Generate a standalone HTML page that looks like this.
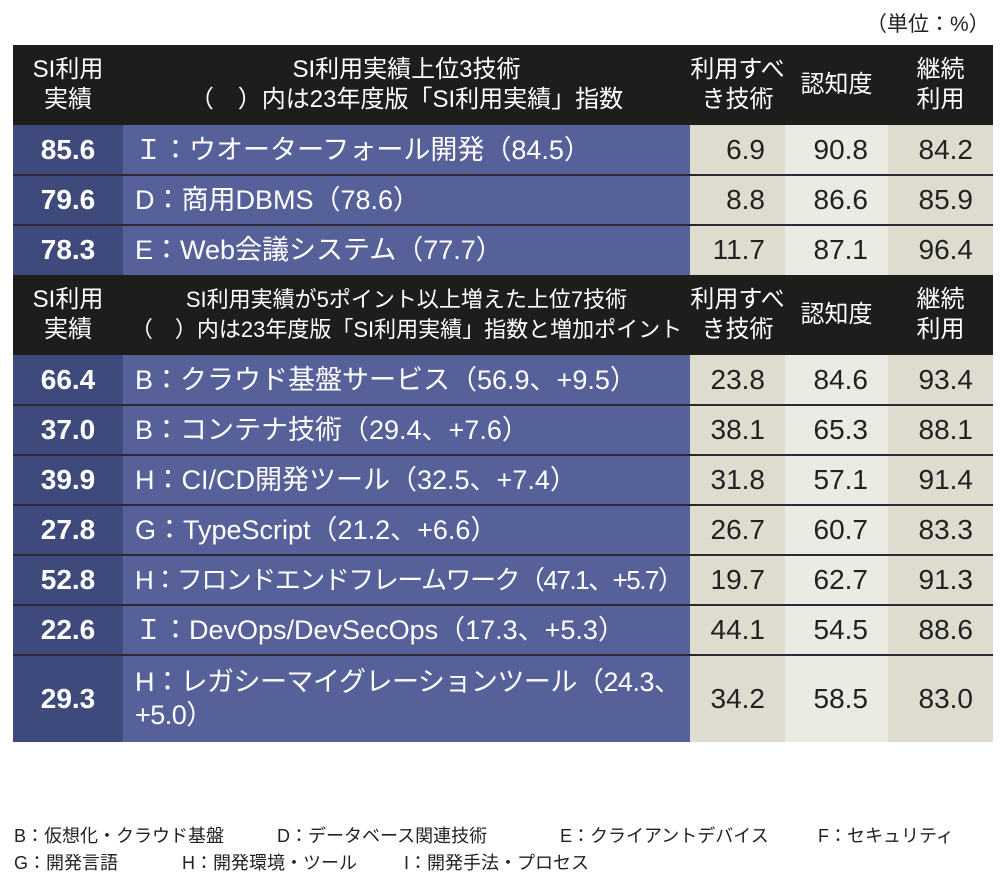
<!DOCTYPE html>
<html><head><meta charset="utf-8"><style>
body{margin:0;width:1000px;height:876px;background:#fff;position:relative;overflow:hidden;font-family:"Liberation Sans","Noto Sans CJK JP",sans-serif;}
.a{position:absolute;box-sizing:border-box;display:flex;align-items:center;}
.h{background:#1f1c1c;color:#fff;font-size:24px;line-height:30px;justify-content:center;text-align:center;}
.c1{background:#3f4a7c;color:#fff;font-size:28px;font-weight:bold;justify-content:center;}
.c2{background:#56619a;color:#fff;font-size:27px;padding-left:12px;line-height:33px;}
.n{color:#222;font-size:28px;justify-content:flex-end;padding-right:20px;}
.b{background:#dedbcf}.l{background:#ebeae3}
.line{position:absolute;left:13px;width:980px;height:2px;background:#2a2a35;}
.lg{position:absolute;font-size:18px;color:#222;white-space:nowrap;}
</style></head><body>
<div class="lg" style="left:866px;top:8px;font-size:21px">（単位：%）</div>
<div class="a h" style="left:13px;top:45px;width:110px;height:80px">SI利用<br>実績</div>
<div class="a h" style="left:123px;top:45px;width:567px;height:80px">SI利用実績上位3技術<br>（　）内は23年度版「SI利用実績」指数</div>
<div class="a h" style="left:690px;top:45px;width:95px;height:80px">利用すべ<br>き技術</div>
<div class="a h" style="left:785px;top:45px;width:103px;height:80px">認知度</div>
<div class="a h" style="left:888px;top:45px;width:105px;height:80px">継続<br>利用</div>
<div class="a h" style="left:13px;top:275px;width:110px;height:80px">SI利用<br>実績</div>
<div class="a h" style="left:123px;top:275px;width:567px;height:80px;font-size:22px">SI利用実績が5ポイント以上増えた上位7技術<br>（　）内は23年度版「SI利用実績」指数と増加ポイント</div>
<div class="a h" style="left:690px;top:275px;width:95px;height:80px">利用すべ<br>き技術</div>
<div class="a h" style="left:785px;top:275px;width:103px;height:80px">認知度</div>
<div class="a h" style="left:888px;top:275px;width:105px;height:80px">継続<br>利用</div>

<div class="a c1" style="left:13px;top:125px;width:110px;height:50px">85.6</div><div class="a c2" style="left:123px;top:125px;width:567px;height:50px">Ｉ：ウオーターフォール開発（84.5）</div><div class="a n b" style="left:690px;top:125px;width:95px;height:50px">6.9</div><div class="a n l" style="left:785px;top:125px;width:103px;height:50px">90.8</div><div class="a n b" style="left:888px;top:125px;width:105px;height:50px">84.2</div>
<div class="a c1" style="left:13px;top:175px;width:110px;height:50px">79.6</div><div class="a c2" style="left:123px;top:175px;width:567px;height:50px">D：商用DBMS（78.6）</div><div class="a n b" style="left:690px;top:175px;width:95px;height:50px">8.8</div><div class="a n l" style="left:785px;top:175px;width:103px;height:50px">86.6</div><div class="a n b" style="left:888px;top:175px;width:105px;height:50px">85.9</div>
<div class="a c1" style="left:13px;top:225px;width:110px;height:50px">78.3</div><div class="a c2" style="left:123px;top:225px;width:567px;height:50px">E：Web会議システム（77.7）</div><div class="a n b" style="left:690px;top:225px;width:95px;height:50px">11.7</div><div class="a n l" style="left:785px;top:225px;width:103px;height:50px">87.1</div><div class="a n b" style="left:888px;top:225px;width:105px;height:50px">96.4</div>

<div class="a c1" style="left:13px;top:355px;width:110px;height:50px">66.4</div><div class="a c2" style="left:123px;top:355px;width:567px;height:50px">B：クラウド基盤サービス（56.9、+9.5）</div><div class="a n b" style="left:690px;top:355px;width:95px;height:50px">23.8</div><div class="a n l" style="left:785px;top:355px;width:103px;height:50px">84.6</div><div class="a n b" style="left:888px;top:355px;width:105px;height:50px">93.4</div>
<div class="a c1" style="left:13px;top:405px;width:110px;height:50px">37.0</div><div class="a c2" style="left:123px;top:405px;width:567px;height:50px">B：コンテナ技術（29.4、+7.6）</div><div class="a n b" style="left:690px;top:405px;width:95px;height:50px">38.1</div><div class="a n l" style="left:785px;top:405px;width:103px;height:50px">65.3</div><div class="a n b" style="left:888px;top:405px;width:105px;height:50px">88.1</div>
<div class="a c1" style="left:13px;top:455px;width:110px;height:50px">39.9</div><div class="a c2" style="left:123px;top:455px;width:567px;height:50px">H：CI/CD開発ツール（32.5、+7.4）</div><div class="a n b" style="left:690px;top:455px;width:95px;height:50px">31.8</div><div class="a n l" style="left:785px;top:455px;width:103px;height:50px">57.1</div><div class="a n b" style="left:888px;top:455px;width:105px;height:50px">91.4</div>
<div class="a c1" style="left:13px;top:505px;width:110px;height:50px">27.8</div><div class="a c2" style="left:123px;top:505px;width:567px;height:50px">G：TypeScript（21.2、+6.6）</div><div class="a n b" style="left:690px;top:505px;width:95px;height:50px">26.7</div><div class="a n l" style="left:785px;top:505px;width:103px;height:50px">60.7</div><div class="a n b" style="left:888px;top:505px;width:105px;height:50px">83.3</div>
<div class="a c1" style="left:13px;top:555px;width:110px;height:50px">52.8</div><div class="a c2" style="left:123px;top:555px;width:567px;height:50px;letter-spacing:-1.5px;font-size:26px">H：フロンドエンドフレームワーク（47.1、+5.7）</div><div class="a n b" style="left:690px;top:555px;width:95px;height:50px">19.7</div><div class="a n l" style="left:785px;top:555px;width:103px;height:50px">62.7</div><div class="a n b" style="left:888px;top:555px;width:105px;height:50px">91.3</div>
<div class="a c1" style="left:13px;top:605px;width:110px;height:50px">22.6</div><div class="a c2" style="left:123px;top:605px;width:567px;height:50px">Ｉ：DevOps/DevSecOps（17.3、+5.3）</div><div class="a n b" style="left:690px;top:605px;width:95px;height:50px">44.1</div><div class="a n l" style="left:785px;top:605px;width:103px;height:50px">54.5</div><div class="a n b" style="left:888px;top:605px;width:105px;height:50px">88.6</div>
<div class="a c1" style="left:13px;top:655px;width:110px;height:87px">29.3</div><div class="a c2" style="left:123px;top:655px;width:567px;height:87px;letter-spacing:-0.5px">H：レガシーマイグレーションツール（24.3、<br>+5.0）</div><div class="a n b" style="left:690px;top:655px;width:95px;height:87px">34.2</div><div class="a n l" style="left:785px;top:655px;width:103px;height:87px">58.5</div><div class="a n b" style="left:888px;top:655px;width:105px;height:87px">83.0</div>

<div class="line" style="top:174px"></div><div class="line" style="top:224px"></div>
<div class="line" style="top:404px"></div><div class="line" style="top:454px"></div><div class="line" style="top:504px"></div><div class="line" style="top:554px"></div><div class="line" style="top:604px"></div><div class="line" style="top:654px"></div>

<div class="lg" style="left:14px;top:822px">B：仮想化・クラウド基盤</div>
<div class="lg" style="left:277px;top:822px">D：データベース関連技術</div>
<div class="lg" style="left:560px;top:822px">E：クライアントデバイス</div>
<div class="lg" style="left:818px;top:822px">F：セキュリティ</div>
<div class="lg" style="left:14px;top:849px">G：開発言語</div>
<div class="lg" style="left:182px;top:849px">H：開発環境・ツール</div>
<div class="lg" style="left:404px;top:849px">I：開発手法・プロセス</div>
</body></html>
